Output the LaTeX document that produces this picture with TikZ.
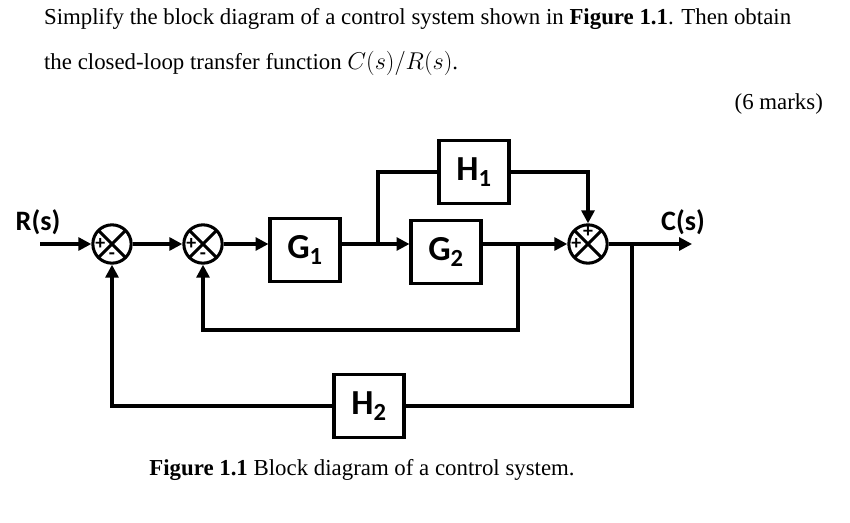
\documentclass[tikz,border=0pt]{standalone}
\usepackage{fontspec}
\setmainfont{Liberation Serif}
\newfontfamily\dia{Carlito}
\usetikzlibrary{arrows.meta}
\begin{document}
\begin{tikzpicture}[x=0.03cm,y=-0.03cm,
  blk/.style={draw,line width=2.6pt,minimum width=2.1cm,minimum height=1.9cm,font=\dia\bfseries\fontsize{30}{32}\selectfont},
  sum/.style={draw,circle,line width=2.6pt,minimum size=1.15cm,inner sep=0pt,
    path picture={\draw[line width=2.6pt] (path picture bounding box.north west)--(path picture bounding box.south east)
      (path picture bounding box.north east)--(path picture bounding box.south west);}},
  sgn/.style={font=\dia\bfseries\fontsize{17}{17}\selectfont,inner sep=0pt},
  wire/.style={line width=2.6pt},
  arr/.style={wire,-{Triangle[length=11pt,width=11pt]}},
  lbl/.style={font=\dia\bfseries\fontsize{24}{26}\selectfont},
  txt/.style={font=\fontsize{19.5}{24}\selectfont}]
\useasboundingbox (0,0) rectangle (850,522);
% text
\node[anchor=west,txt] (t1) at (40,19) {Simplify the block diagram of a control system shown in \textbf{Figure 1.1}. Then obtain};
\node[anchor=west,txt] (t2) at (40,63) {the closed-loop transfer function $C(s)/R(s)$.};
\node[anchor=east,txt] (mk) at (827,104) {(6 marks)};
\node[txt] (cap) at (362,470) {\textbf{Figure 1.1} Block diagram of a control system.};
% blocks
\node[sum] (s1) at (112,244) {};
\node[sum] (s2) at (203,244) {};
\node[sum] (s3) at (588,244) {};
\node[blk] (g1) at (305,250) {G\textsubscript{1}};
\node[blk] (g2) at (446,252) {G\textsubscript{2}};
\node[blk] (h1) at (474,172) {H\textsubscript{1}};
\node[blk] (h2) at (369,406) {H\textsubscript{2}};
\node[sgn] at ([xshift=-10pt]s1.center) {+};
\node[sgn] at ([yshift=-10pt]s1.center) {-};
\node[sgn] at ([xshift=-10pt]s2.center) {+};
\node[sgn] at ([yshift=-10pt]s2.center) {-};
\node[sgn] at ([xshift=-10pt]s3.center) {+};
\node[sgn] at ([yshift=10pt]s3.center) {+};
\node[lbl] (r) at (38,222) {R(s)};
\node[lbl] (c) at (683,222) {C(s)};
% points
\coordinate (in) at (40,244);
\coordinate (out) at (692,244);
\coordinate (b1) at (378,244);
\coordinate (b2) at (518,244);
\coordinate (b3) at (632,244);
% connectors
\draw[arr] (in) -- (s1);
\draw[arr] (s1) -- (s2);
\draw[arr] (s2) -- (s2 -| g1.west);
\draw[arr] (g1.east |- b1) -- (g2.west |- b1);
\draw[arr] (g2.east |- b2) -- (s3);
\draw[arr] (s3) -- (out);
\draw[wire] (b1) |- (h1.west);
\draw[arr] (h1.east) -| (s3);
\draw[arr] (b2) -- (518,330) -| (s2);
\draw[wire] (b3) |- (h2.east);
\draw[arr] (h2.west) -| (s1);
\end{tikzpicture}
\end{document}
